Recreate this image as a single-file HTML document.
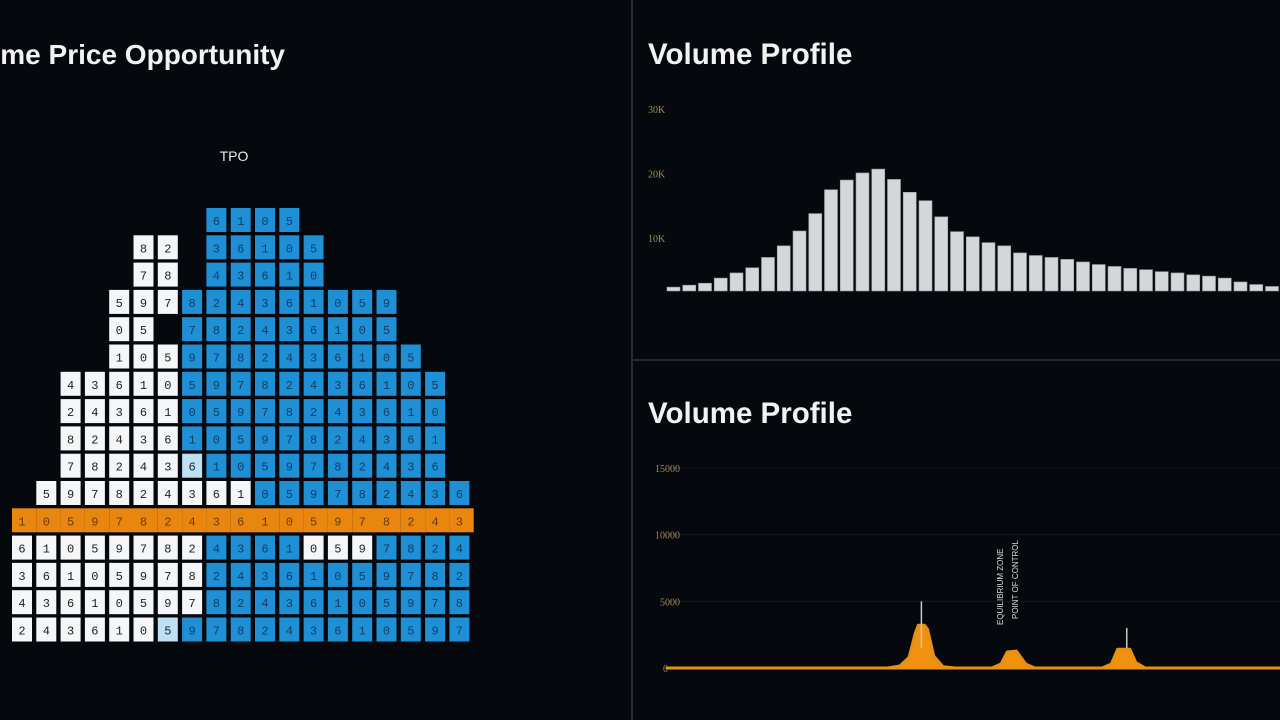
<!DOCTYPE html>
<html><head><meta charset="utf-8">
<style>
html,body{margin:0;padding:0;background:#05080d;width:1280px;height:720px;overflow:hidden;font-family:"Liberation Sans",sans-serif;}
svg{display:block}
</style></head>
<body>
<svg id="root" width="1280" height="720" xmlns="http://www.w3.org/2000/svg">
  <rect x="0" y="0" width="1280" height="720" fill="#05080d"/>
  <line x1="632" y1="0" x2="632" y2="720" stroke="#262b33" stroke-width="2"/>
  <line x1="632" y1="360" x2="1280" y2="360" stroke="#262b33" stroke-width="2"/>
  <text x="285" y="64" text-anchor="end" fill="#f2f2f2" font-size="28" font-weight="bold">Time Price Opportunity</text>
  <text x="234" y="161" text-anchor="middle" fill="#e8e8e8" font-size="14">TPO</text>
  <text x="648" y="64" fill="#f2f2f2" font-size="29.5" font-weight="bold">Volume Profile</text>
  <text x="648" y="423" fill="#f2f2f2" font-size="29.5" font-weight="bold">Volume Profile</text>
  <g id="tpo"></g>
  <g id="vp"></g>
  <g id="vp2"></g>
</svg>
<script>
// ---- TPO chart data ----
const tpoRows = [
  "........bbbb.......",
  ".....ww.bbbbb......",
  ".....ww.bbbbb......",
  "....wwwbbbbbbbbb...",
  "....ww.bbbbbbbbb...",
  "....wwwbbbbbbbbbb..",
  "..wwwwwbbbbbbbbbbb.",
  "..wwwwwbbbbbbbbbbb.",
  "..wwwwwbbbbbbbbbbb.",
  "..wwwwwlbbbbbbbbbb.",
  ".wwwwwwwwwbbbbbbbbb",
  "ooooooooooooooooooo",
  "wwwwwwwwbbbbwwwbbbb",
  "wwwwwwwwbbbbbbbbbbb",
  "wwwwwwwwbbbbbbbbbbb",
  "wwwwwwlbbbbbbbbbbbb"
];
const tpoLetters = ["0","3","8","5","6","2","9","1","4","7"];

// ---- top volume profile data (K) ----
const vpValues = [2.4,2.7,3.0,3.8,4.6,5.4,7.0,8.8,11.1,13.8,17.5,19.0,20.1,20.7,19.1,17.1,15.8,13.3,11.0,10.2,9.3,8.8,7.7,7.3,7.0,6.7,6.3,5.9,5.6,5.3,5.1,4.8,4.6,4.3,4.1,3.8,3.2,2.8,2.5];
const vpBase = 1.8;
const vpTicks = [10,20,30];
const vpTickLabels = ["10K","20K","30K"];

// ---- bottom volume profile line data ----
const linePrices = [100,136,138,139.5,140.5,141,142,142.5,143.5,145,147,153,154.5,155.5,157,158.5,160,171,172.5,173.5,175.5,176.5,178,200];
const lineVols = [0,0,150,800,2600,3200,3200,2900,900,100,0,0,300,1200,1270,300,0,0,300,1400,1400,400,0,0];
const stemPrices = [141.5,175];
const stemVols = [5000,3000];
const lineTicks = [0,5000,10000,15000];
const lineTickLabels = ["0","5000","10000","15000"];
const annotations = ["EQUILIBRIUM ZONE","POINT OF CONTROL"];

const NS = "http://www.w3.org/2000/svg";
function mk(tag, attrs, parent){const e=document.createElementNS(NS,tag);for(const k in attrs)e.setAttribute(k,attrs[k]);parent.appendChild(e);return e;}

// TPO
const tpo = document.getElementById('tpo');
const colX = i => 12 + i*24.3;
const rowY = r => 208 + r*27.3;
const fills = {w:"#f4f6f8", b:"#1f8fd6", o:"#e8860f", l:"#bfe0f4"};
tpoRows.forEach((row, r) => {
  for (let c = 0; c < row.length; c++) {
    const ch = row[c];
    if (ch === '.') continue;
    const rect = mk('rect', {x:colX(c), y:rowY(r), width: ch==='o'?24.3:20, height: 24, fill: fills[ch]}, tpo);
    
    
    const t = mk('text', {x:colX(c)+10, y:rowY(r)+17, 'text-anchor':'middle', 'font-size':12, 'font-family':'Liberation Mono, monospace', fill: ch==='o'?'#6a3a00':(ch==='w'||ch==='l'?'#222':'#0d3f66')}, tpo);
    t.textContent = tpoLetters[(r*7 + c*3) % tpoLetters.length];
    
    
  }
});

// Top volume profile
const vp = document.getElementById('vp');
const vpX = i => 667 + i*15.75;
const vpY = v => 302.6 - v*6.45;
vpValues.forEach((v,i) => {
  const b = mk('rect', {x:vpX(i), y:vpY(v), width:13, height:vpY(vpBase)-vpY(v), fill:'#d4d6da', stroke:'#9a9ca0', 'stroke-width':0.6}, vp);
  
  
});
vpTicks.forEach((t,i) => {
  const l = mk('text', {x:648, y:vpY(t)+4, 'font-size':10, fill:'#a88a5c', 'font-family':'Liberation Serif, serif'}, vp);
  l.textContent = vpTickLabels[i];
  
  
});

// Bottom volume profile line
const vp2 = document.getElementById('vp2');
const lx = p => 667 + (p-100)*6.13;
const ly = v => 668 - v*0.01334;
lineTicks.forEach((t,i) => {
  const g = mk('line', {x1:667, x2:1280, y1:ly(t), y2:ly(t), stroke:'#121821', 'stroke-width':1}, vp2);
  
  
  const l = mk('text', {x: i===0?668:680, y:ly(t)+4, 'text-anchor':'end', 'font-size':10, fill:'#a88a5c', 'font-family':'Liberation Serif, serif'}, vp2);
  l.textContent = lineTickLabels[i];
  
  
});
let d = '';
linePrices.forEach((p,i) => { d += (i?'L':'M') + lx(p).toFixed(1) + ' ' + ly(lineVols[i]).toFixed(1) + ' '; });
const area = mk('path', {d: d + 'Z', fill:'#f0920f', stroke:'#e8900f', 'stroke-width':3, 'stroke-linejoin':'round'}, vp2);


stemPrices.forEach((p,i) => {
  const s = mk('line', {x1:lx(p), x2:lx(p), y1:ly(stemVols[i]), y2:ly(1500), stroke:'#c8c8c8', 'stroke-width':1.5}, vp2);
  
  
});
annotations.forEach((a,i) => {
  const x = 1003 + i*15, y = 625 - i*6;
  const t = mk('text', {x:x, y:y, transform:`rotate(-90 ${x} ${y})`, 'font-size':8, fill:'#dcdcdc'}, vp2);
  t.textContent = a;
  
  
});
</script>
</body></html>
